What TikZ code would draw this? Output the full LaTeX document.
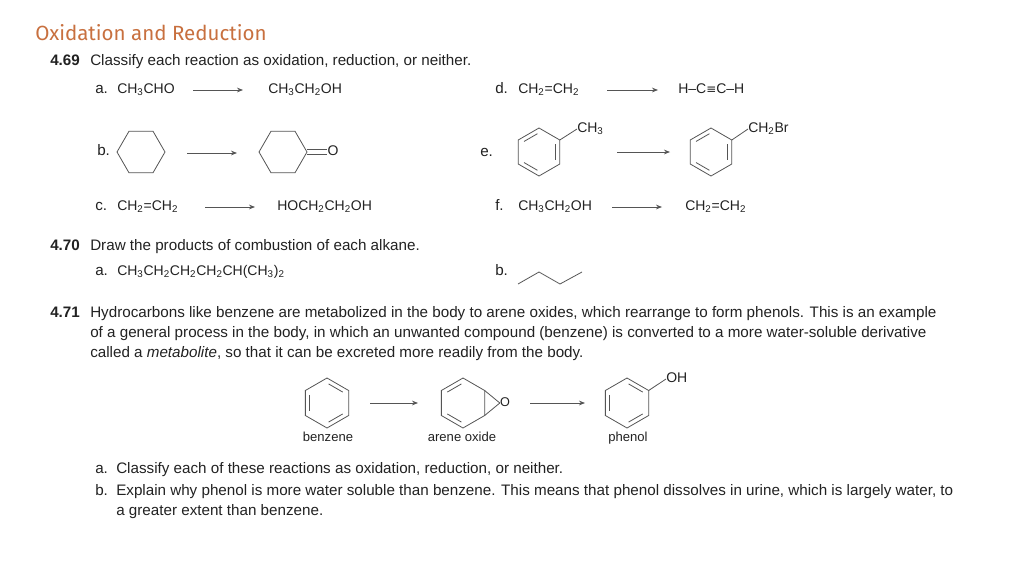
\documentclass[tikz,border=0pt]{standalone}
\usepackage{fontspec}
\setmainfont{Liberation Sans}
\newfontfamily\titlefont{Fira Sans}
\newfontfamily\dvs{DejaVu Sans}
\usetikzlibrary{arrows.meta}
\definecolor{txt}{HTML}{222222}
\definecolor{bondc}{HTML}{555555}
\definecolor{ttl}{HTML}{C8703F}
\newcommand\sbs[1]{\textsubscript{#1}}
\newcommand\hexring[4]{% center, radius, start angle, inner edges
\begin{scope}[shift={#1}]
\draw[bond] (#3:#2) -- (#3+60:#2) -- (#3+120:#2) -- (#3+180:#2) -- (#3+240:#2) -- (#3+300:#2) -- cycle;
\foreach \a in {#4} \draw[bond,shorten <=1.4pt,shorten >=1.4pt] (\a:{0.8*#2}) -- (\a-60:{0.8*#2});
\end{scope}}
\tikzset{
 bond/.style={draw=bondc,line width=0.6pt},
 rx/.style={draw=bondc,line width=0.6pt,-{Stealth[length=4.5pt,width=3.5pt]}},
 t/.style={anchor=west,inner sep=0pt,text height=8pt,text depth=2.5pt,text=txt,font=\fontsize{10.5}{12}\selectfont},
 p/.style={t,font=\fontsize{11.4}{13}\selectfont},
 pb/.style={t,font=\bfseries\fontsize{11.4}{13}\selectfont},
 tc/.style={t,anchor=center},
}
\begin{document}
\begin{tikzpicture}[x=0.75pt,y=-0.75pt]
\useasboundingbox[fill=white] (0,0) rectangle (1024,571);
\node[anchor=west,inner sep=0pt,text=ttl,font=\titlefont\fontsize{15.4}{17}\selectfont] (title) at (35,33) {Oxidation and Reduction};
% 4.69
\node[pb] (n469) at (50,62) {4.69};
\node[p] (q469) at (90,62) {Classify each reaction as oxidation, reduction, or neither.};
\node[p] (la) at (95,90) {a.};
\node[t] (a1) at (117,90) {CH\sbs{3}CHO};
\node[t] (a2) at (268,90) {CH\sbs{3}CH\sbs{2}OH};
\coordinate (aa1) at (193,90); \coordinate (aa2) at (243,90);
\draw[rx] (aa1) -- (aa2);
\node[p] (ld) at (495,90) {d.};
\node[t] (d1) at (518,90) {CH\sbs{2}=CH\sbs{2}};
\node[t] (d2) at (678,90) {H--C{\dvs\fontsize{9}{10}\selectfont≡}C--H};
\coordinate (da1) at (607,90); \coordinate (da2) at (658,90);
\draw[rx] (da1) -- (da2);
% b
\node[p] (lb) at (97,152) {b.};
\hexring{(141,152)}{24}{0}{}
\coordinate (ba1) at (187,153); \coordinate (ba2) at (237,153);
\draw[rx] (ba1) -- (ba2);
\hexring{(283,152)}{24}{0}{}
\node[tc] (bO) at (333,152) {O};
\coordinate (bc) at (307,152);
\draw[bond] ([yshift=1.6pt]bc) -- ([yshift=1.6pt]bO.west);
\draw[bond] ([yshift=-1.6pt]bc) -- ([yshift=-1.6pt]bO.west);
% e
\node[p] (le) at (480,153) {e.};
\hexring{(539,152)}{24}{90}{-90,30,150}
\node[t] (e1) at (577,129) {CH\sbs{3}};
\draw[bond] (539+20.8,140) -- (e1.west);
\coordinate (ea1) at (617,152); \coordinate (ea2) at (670,152);
\draw[rx] (ea1) -- (ea2);
\hexring{(711,152)}{24}{90}{-90,30,150}
\node[t] (e2) at (748,129) {CH\sbs{2}Br};
\draw[bond] (711+20.8,140) -- (e2.west);
% c, f
\node[p] (lc) at (95,207) {c.};
\node[t] (c1) at (117,207) {CH\sbs{2}=CH\sbs{2}};
\node[t] (c2) at (277,207) {HOCH\sbs{2}CH\sbs{2}OH};
\coordinate (ca1) at (205,207); \coordinate (ca2) at (255,207);
\draw[rx] (ca1) -- (ca2);
\node[p] (lf) at (495,207) {f.};
\node[t] (f1) at (518,207) {CH\sbs{3}CH\sbs{2}OH};
\node[t] (f2) at (685,207) {CH\sbs{2}=CH\sbs{2}};
\coordinate (fa1) at (612,207); \coordinate (fa2) at (662,207);
\draw[rx] (fa1) -- (fa2);
% 4.70
\node[pb] (n470) at (50,247) {4.70};
\node[p] (q470) at (90,247) {Draw the products of combustion of each alkane.};
\node[p] (l70a) at (95,272) {a.};
\node[t] (s70a) at (117,272) {CH\sbs{3}CH\sbs{2}CH\sbs{2}CH\sbs{2}CH(CH\sbs{3})\sbs{2}};
\node[p] (l70b) at (495,272) {b.};
\draw[bond] (518,284) -- (539,272) -- (560,284) -- (582,272);
% 4.71
\node[pb] (n471) at (50,314) {4.71};
\node[p] (q1) at (90,314) {Hydrocarbons like benzene are metabolized in the body to arene oxides, which rearrange to form phenols. This is an example};
\node[p] (q2) at (90,334) {of a general process in the body, in which an unwanted compound (benzene) is converted to a more water-soluble derivative};
\node[p] (q3) at (90,354) {called a \textit{metabolite}, so that it can be excreted more readily from the body.};
\hexring{(327,403)}{25}{90}{210,-30,90}
\node[tc,font=\fontsize{9.8}{11}\selectfont] (benz) at (328,438) {benzene};
\coordinate (m1a) at (370,403); \coordinate (m1b) at (418,403);
\draw[rx] (m1a) -- (m1b);
\hexring{(463,403)}{25}{90}{-90,150}
\node[tc,font=\fontsize{9.5}{11}\selectfont] (ox) at (505,403) {O};
\draw[bond] (463+21.65,403-12.5) -- (ox.west);
\draw[bond] (463+21.65,403+12.5) -- (ox.west);
\node[tc,font=\fontsize{9.8}{11}\selectfont] (aro) at (462,438) {arene oxide};
\coordinate (m2a) at (530,403); \coordinate (m2b) at (585,403);
\draw[rx] (m2a) -- (m2b);
\hexring{(627,403)}{25}{90}{210,-30,90}
\node[t] (oh) at (666,379) {OH};
\draw[bond] (627+21.65,403-12.5) -- (oh.west);
\node[tc,font=\fontsize{9.8}{11}\selectfont] (phe) at (628,438) {phenol};
\node[p] (l71a) at (95,470) {a.};
\node[p] (s71a) at (116,470) {Classify each of these reactions as oxidation, reduction, or neither.};
\node[p] (l71b) at (95,492) {b.};
\node[p] (s71b) at (116,492) {Explain why phenol is more water soluble than benzene. This means that phenol dissolves in urine, which is largely water, to};
\node[p] (s71c) at (116,512) {a greater extent than benzene.};
\end{tikzpicture}
\end{document}
